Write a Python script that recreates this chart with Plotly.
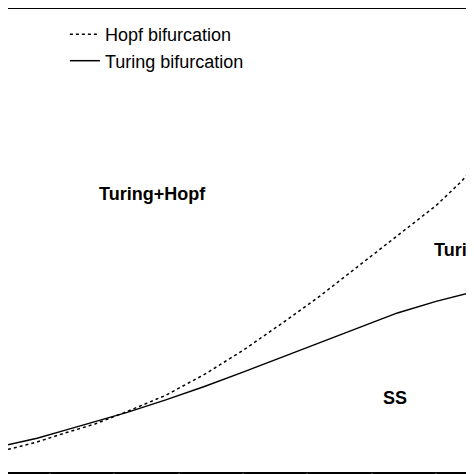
import plotly.graph_objects as go

# bifurcation curves
x_pts = [0.674, 0.9, 1.1, 1.35, 1.6, 1.9, 2.2, 2.5, 2.8, 3.1, 3.4, 3.7, 4.0, 4.2, 4.357]
turing = [0.058, 0.072, 0.088, 0.108, 0.128, 0.155, 0.184, 0.215, 0.247, 0.279, 0.312, 0.343, 0.368, 0.382, 0.393]
hopf = [0.048, 0.064, 0.082, 0.103, 0.13, 0.165, 0.21, 0.262, 0.32, 0.38, 0.445, 0.51, 0.575, 0.628, 0.678]

fig = go.Figure()
fig.add_trace(go.Scatter(x=x_pts, y=hopf, mode="lines",
                         name="Hopf bifurcation",
                         line=dict(color="black", width=1.5, dash="dot")))
fig.add_trace(go.Scatter(x=x_pts, y=turing, mode="lines",
                         name="Turing bifurcation",
                         line=dict(color="black", width=1.5)))

for txt, x, y in [("Turing+Hopf", 1.8, 0.6), ("Turing", 4.2, 0.479), ("SS", 3.68, 0.16)]:
    fig.add_annotation(x=x, y=y, text="<b>" + txt + "</b>", showarrow=False,
                       font=dict(size=18, color="black", family="Arial"))

fig.update_layout(
    width=474, height=474, margin=dict(l=0, r=0, t=1, b=0),
    plot_bgcolor="white", paper_bgcolor="white",
    font=dict(family="Arial", color="black"),
    legend=dict(x=0.12, y=0.985, bgcolor="rgba(0,0,0,0)", font=dict(size=18),
                tracegroupgap=0),
    xaxis=dict(range=[0.674, 4.357], showgrid=False, zeroline=False,
               showline=True, linecolor="black", linewidth=1.5, mirror=True,
               ticks="outside", ticklen=10, tickwidth=1.5, dtick=0.5,
               showticklabels=False),
    yaxis=dict(range=[0, 1], domain=[0.022, 1], showgrid=False, zeroline=False,
               showline=False, showticklabels=False),
)
fig.write_html("out.html")
